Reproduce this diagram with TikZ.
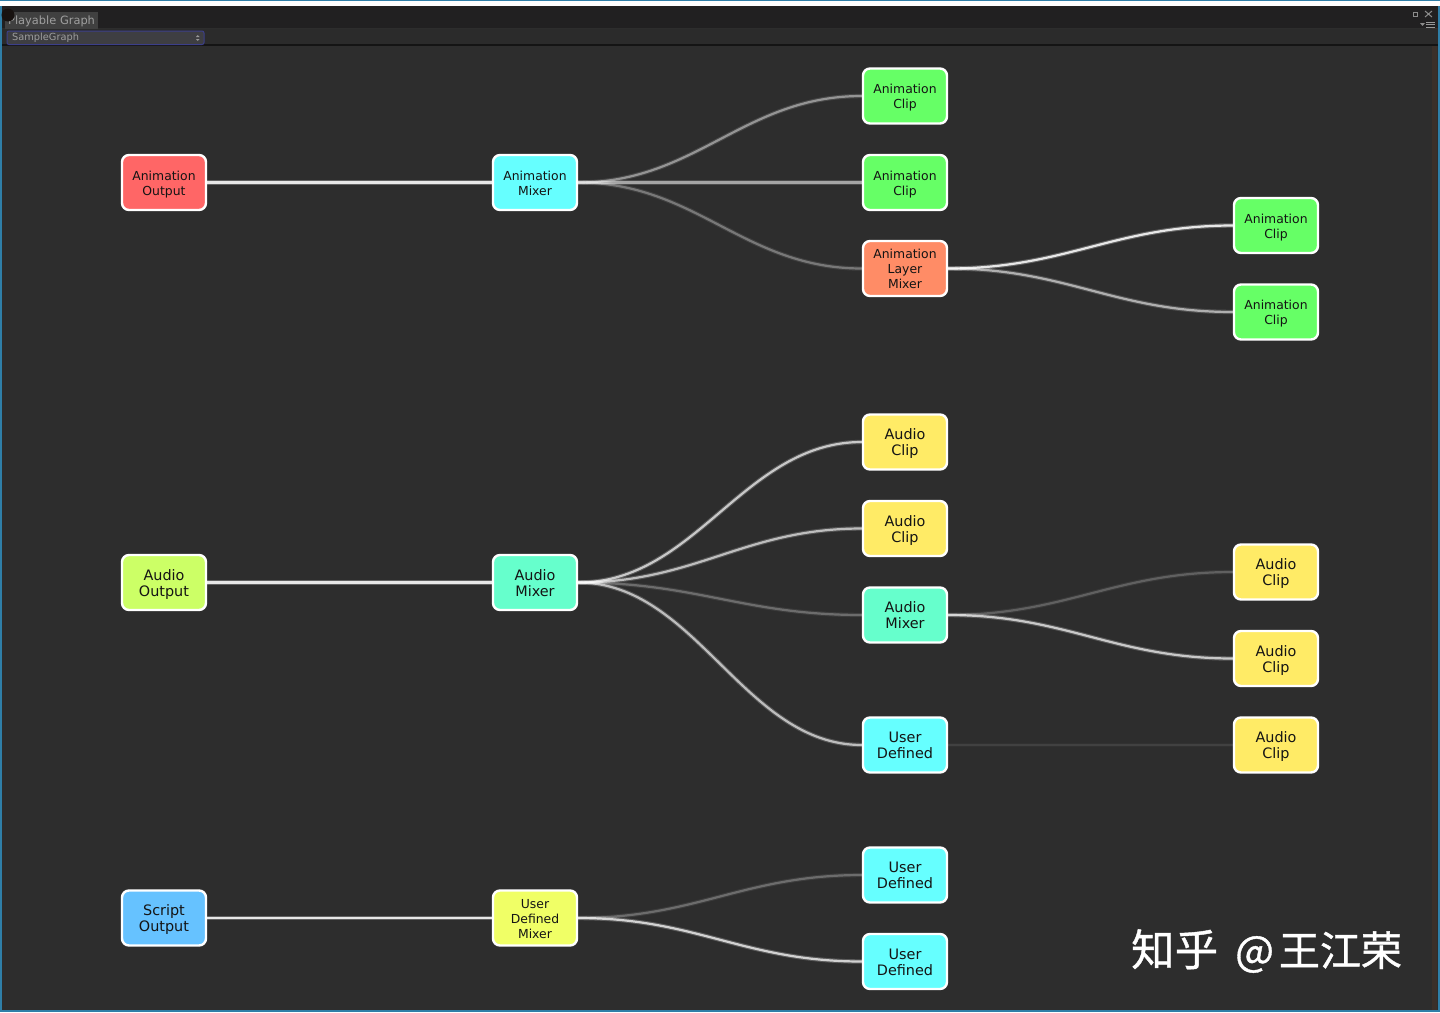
\documentclass[tikz,border=0pt]{standalone}
\usepackage{fontspec}
\setmainfont{DejaVu Sans}
\newfontfamily\cjkfont[RawFeature={embolden=0.9}]{Noto Sans CJK SC}
\definecolor{bg}{HTML}{2D2D2D}
\definecolor{barA}{HTML}{212021}
\definecolor{barB}{HTML}{2B2B2B}
\definecolor{barline}{HTML}{141414}
\definecolor{frameblue}{HTML}{2F7FA8}
\definecolor{edgebrown}{HTML}{3A302A}
\definecolor{blobc}{HTML}{181210}
\definecolor{popfill}{HTML}{3E3E42}
\definecolor{popline}{HTML}{3C3F8A}
\definecolor{cRed}{HTML}{FF6666}
\definecolor{cCyan}{HTML}{66FFFF}
\definecolor{cGreen}{HTML}{66FF66}
\definecolor{cOrange}{HTML}{FF8C66}
\definecolor{cLime}{HTML}{CCFF66}
\definecolor{cMint}{HTML}{66FFCC}
\definecolor{cYellow}{HTML}{FFEB66}
\definecolor{cBlue}{HTML}{66C2FF}
\definecolor{cLemon}{HTML}{F0FF66}
\newcommand{\nt}[1]{\raisebox{-2.4pt}[\height][\depth]{\begin{tabular}{@{}c@{}}#1\end{tabular}}}
\tikzset{
  x=1pt,y=-1pt,
  pnode/.style={draw=white,line width=2.4pt,rounded corners=7pt,minimum width=84pt,minimum height=55pt,
    inner sep=0pt,text=black!92,font=\fontsize{12.4}{15}\selectfont},
  big/.style={font=\fontsize{14.4}{16}\selectfont},
  wire/.style={line width=2.2pt,line cap=butt,color=white,draw opacity=#1,
    preaction={draw,line width=4.4pt,color=white,draw opacity=0.3*#1}},
  uitext/.style={inner sep=0pt,anchor=west,text=white!62!black,font=\fontsize{11.4}{13}\selectfont},
}
\newcommand{\link}[3]{\draw[wire=#3] (#1.east) .. controls +(118,0) and +(-118,0) .. (#2.west);}
\begin{document}
\begin{tikzpicture}
\useasboundingbox (0,0) rectangle (1440,1012);
\fill[frameblue] (0,0) rectangle (1440,1012);
\fill[white] (0,1) rectangle (1440,6);
\fill[bg] (1.5,6) rectangle (1438,1009.5);
\fill[edgebrown] (1432,6) rectangle (1437,1009.5);
\fill[barA] (1.5,6) rectangle (1438,28);
\fill[barB] (1.5,29) rectangle (1438,44);
\fill[barline] (1.5,44) rectangle (1438,46);
% tab and popup
\fill[white!25!black] (5,12) rectangle (98,29);
\node[uitext] (tabname) at (8,21) {Playable Graph};
\fill[blobc] (8,15) circle (6.5);
\draw[fill=popfill,draw=popline,line width=1pt,rounded corners=2pt] (7,31) rectangle (204,44.5);
\node[uitext,font=\fontsize{9.8}{11}\selectfont] (graphname) at (12,38) {SampleGraph};
\fill[white!60!black] (196,37) -- (199.5,37) -- (197.75,35) -- cycle;
\fill[white!60!black] (196,39) -- (199.5,39) -- (197.75,41) -- cycle;
% window controls
\draw[white!55!black,line width=1pt] (1413,12) rectangle (1417,16);
\draw[white!55!black,line width=1pt] (1425,11) -- (1432,17) (1432,11) -- (1425,17);
\fill[white!55!black] (1420,23) -- (1425,23) -- (1422.5,26) -- cycle;
\draw[white!60!black,line width=1pt] (1426,22) -- (1435,22) (1426,24.5) -- (1435,24.5) (1426,27) -- (1435,27);
% nodes
\node[pnode,fill=cRed] (ao) at (164,182.5) {\nt{Animation\\Output}};
\node[pnode,fill=cCyan] (am) at (535,182.5) {\nt{Animation\\Mixer}};
\node[pnode,fill=cGreen] (ac1) at (905,96) {\nt{Animation\\Clip}};
\node[pnode,fill=cGreen] (ac2) at (905,182.5) {\nt{Animation\\Clip}};
\node[pnode,fill=cOrange] (alm) at (905,268.5) {\nt{Animation\\Layer\\Mixer}};
\node[pnode,fill=cGreen] (ac3) at (1276,225.5) {\nt{Animation\\Clip}};
\node[pnode,fill=cGreen] (ac4) at (1276,312) {\nt{Animation\\Clip}};
\node[pnode,big,fill=cLime] (uo) at (164,582.5) {\nt{Audio\\Output}};
\node[pnode,big,fill=cMint] (um) at (535,582.5) {\nt{Audio\\Mixer}};
\node[pnode,big,fill=cYellow] (uc1) at (905,442) {\nt{Audio\\Clip}};
\node[pnode,big,fill=cYellow] (uc2) at (905,528.5) {\nt{Audio\\Clip}};
\node[pnode,big,fill=cMint] (um2) at (905,615) {\nt{Audio\\Mixer}};
\node[pnode,big,fill=cCyan] (ud) at (905,745) {\nt{User\\Defined}};
\node[pnode,big,fill=cYellow] (uc3) at (1276,572) {\nt{Audio\\Clip}};
\node[pnode,big,fill=cYellow] (uc4) at (1276,658.5) {\nt{Audio\\Clip}};
\node[pnode,big,fill=cYellow] (uc5) at (1276,745) {\nt{Audio\\Clip}};
\node[pnode,big,fill=cBlue] (so) at (164,918) {\nt{Script\\Output}};
\node[pnode,fill=cLemon] (sm) at (535,918) {\nt{User\\Defined\\Mixer}};
\node[pnode,big,fill=cCyan] (sd1) at (905,875) {\nt{User\\Defined}};
\node[pnode,big,fill=cCyan] (sd2) at (905,961.5) {\nt{User\\Defined}};
% connectors
\link{ao}{am}{0.85}
\link{am}{ac1}{0.42}
\link{am}{ac2}{0.5}
\link{am}{alm}{0.3}
\link{alm}{ac3}{0.85}
\link{alm}{ac4}{0.55}
\link{uo}{um}{0.85}
\link{um}{uc1}{0.68}
\link{um}{uc2}{0.62}
\link{um}{um2}{0.25}
\link{um}{ud}{0.62}
\link{um2}{uc3}{0.2}
\link{um2}{uc4}{0.68}
\link{ud}{uc5}{0.08}
\link{so}{sm}{0.85}
\link{sm}{sd1}{0.25}
\link{sm}{sd2}{0.72}
% watermark
\node[inner sep=0pt,anchor=west,text=white,font=\cjkfont\fontsize{41}{45}\selectfont] (mark) at (1131,951) {{\fontsize{43.5}{45}\selectfont 知乎}\hspace{17pt}@\hspace{5pt}王江荣};
\end{tikzpicture}
\end{document}
